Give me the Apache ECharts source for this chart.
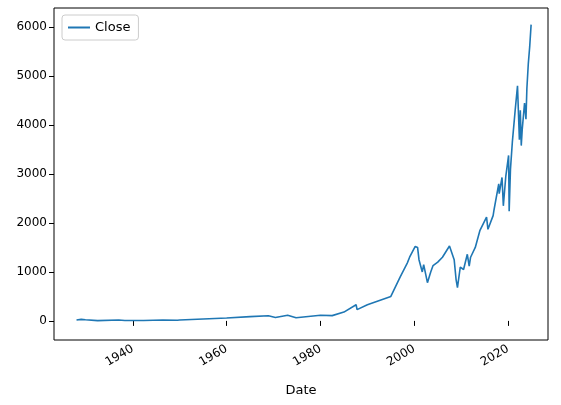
<!DOCTYPE html>
<html><head><meta charset="utf-8">
<script src="https://cdn.jsdelivr.net/npm/echarts@6/dist/echarts.min.js"></script>
<style>html,body{margin:0;padding:0;background:#fff}#c{width:561px;height:405px}</style>
</head><body><div id="c"></div>
<script>
const years = [1928,1929,1929.9,1932.5,1937,1938.3,1942.3,1946.4,1949.5,1950,1955,1960,1965,1968.9,1970.4,1973,1974.8,1980,1982.5,1985,1987.6,1987.8,1990,1995,1997,1998.5,1999,2000.2,2000.7,2001,2001.7,2002,2002.8,2003.5,2004,2005,2006,2007.5,2007.8,2008.5,2008.9,2009.2,2009.8,2010.5,2011.3,2011.7,2012,2013,2014,2015.4,2015.7,2016.1,2016.8,2017,2018,2018.1,2018.7,2018.98,2019.5,2020.1,2020.22,2020.5,2020.9,2021.5,2022.0,2022.4,2022.6,2022.8,2023.0,2023.5,2023.8,2024.0,2024.3,2024.6,2024.9];
const closes = [17,31,22,5,18,9,8,19,14,17,40,58,88,106,70,116,65,115,108,180,330,230,330,500,900,1180,1300,1520,1500,1250,1000,1150,780,1000,1130,1200,1300,1530,1560,1250,850,680,1100,1050,1360,1120,1300,1500,1850,2120,1870,1830,2150,2270,2800,2600,2930,2350,2950,3380,2240,3100,3650,4300,4800,3700,4300,3580,3900,4450,4120,4750,5250,5600,6050];
const xTicks = [1940,1960,1980,2000,2020];
const yTicks = [0,1000,2000,3000,4000,5000,6000];
const font = 'DejaVu Sans';
const chart = echarts.init(document.getElementById('c'));
chart.setOption({
  animation:false,
  grid:{left:54,right:13,top:8,bottom:65,show:true,borderColor:'#000',borderWidth:1},
  legend:{left:62,top:15,itemWidth:22,itemHeight:2,orient:'vertical',
    textStyle:{fontFamily:font,fontSize:13,color:'#000'},
    borderColor:'#ccc',borderWidth:1,borderRadius:3,padding:[6,8,6,6],data:[{name:'Close',icon:'rect'}]},
  xAxis:{type:'value',min:1923.2,max:2028.5,name:'Date',nameLocation:'middle',nameGap:44,
    nameTextStyle:{fontFamily:font,fontSize:13,color:'#000'},
    axisLine:{show:false},splitLine:{show:false},
    axisTick:{show:true,length:5,lineStyle:{color:'#000'},customValues:xTicks},
    axisLabel:{customValues:xTicks,rotate:30,fontFamily:font,fontSize:12,color:'#000',margin:8,
      formatter:v=>String(Math.round(v))}},
  yAxis:{type:'value',min:-390,max:6390,
    axisLine:{show:false},splitLine:{show:false},
    axisTick:{show:true,length:5,lineStyle:{color:'#000'},customValues:yTicks},
    axisLabel:{customValues:yTicks,fontFamily:font,fontSize:12,color:'#000',margin:7,
      formatter:v=>String(Math.round(v))}},
  series:[{name:'Close',type:'line',showSymbol:false,
    data:years.map((y,i)=>[y,closes[i]]),
    lineStyle:{color:'#1f77b4',width:1.6},itemStyle:{color:'#1f77b4'}}]
});
</script></body></html>
